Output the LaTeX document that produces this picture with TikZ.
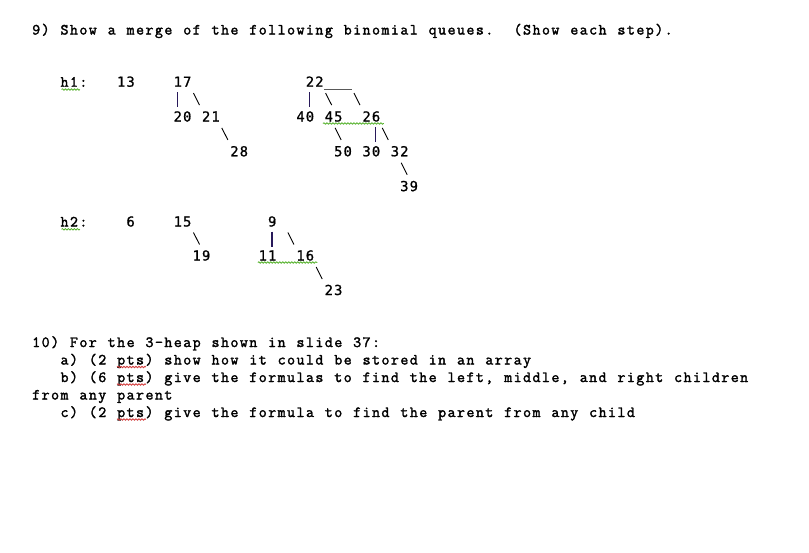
\documentclass[tikz,border=0pt]{standalone}
\usepackage{fontspec}
\usetikzlibrary{decorations.pathmorphing}
\newfontfamily\cfont[FakeBold=2]{Latin Modern Mono}
\newfontfamily\dfont[FakeBold=1]{DejaVu Sans Mono}
\newlength\cw \setlength\cw{9.44pt}
\ExplSyntaxOn
\NewDocumentCommand\gl{m}{\str_map_inline:nn {#1} {\hbox_to_wd:nn {\cw} {\hss ##1 \hss}}}
\ExplSyntaxOff
\newcommand\gs{\hbox to \cw{}}
\definecolor{barcol}{RGB}{40,25,90}
\definecolor{spellgreen}{RGB}{90,180,50}
\definecolor{spellred}{RGB}{210,60,60}
\tikzset{
  txt/.style={anchor=base west, inner sep=0pt, font=\cfont\fontsize{15.5}{17}\selectfont},
  num/.style={anchor=base west, inner sep=0pt, font=\dfont\fontsize{13.8}{15}\selectfont},
  bs/.style={line width=0.9pt, black},
  vb/.style={line width=1.1pt, barcol},
  wavy/.style={decorate, decoration={snake, segment length=3pt, amplitude=0.7pt}, line width=0.85pt},
}
\begin{document}
\begin{tikzpicture}
\path[use as bounding box, fill=white] (0,0) rectangle (809pt,-552pt);
\begin{scope}[x=9.44pt, y=-1pt, xshift=31.3pt]
% title
\node[txt] (title) at (0,34.5) {\gl{9) Show a merge of the following binomial queues.}\gs\gs\gl{(Show each step).}};
% h1
\node[txt] (h1) at (3,86.7) {\gl{h1:}};
\node[num] (n13) at (9,86.7) {\gl{13}};
\node[num] (n17) at (15,86.7) {\gl{17}};
\node[num] (n20) at (15,121.5) {\gl{20}};
\node[num] (n21) at (18,121.5) {\gl{21}};
\node[num] (n28) at (21,156.3) {\gl{28}};
\node[num] (n22) at (29,86.7) {\gl{22}};
\node[num] (n40) at (28,121.5) {\gl{40}};
\node[num] (n45) at (31,121.5) {\gl{45}};
\node[num] (n26) at (35,121.5) {\gl{26}};
\node[num] (n50) at (32,156.3) {\gl{50}};
\node[num] (n30) at (35,156.3) {\gl{30}};
\node[num] (n32) at (38,156.3) {\gl{32}};
\node[num] (n39) at (39,191.1) {\gl{39}};
% h1 strokes
\draw[vb] (15.5,92.1) -- (15.5,107.1);
\draw[bs] (17.18,93.1) -- (17.82,105.1);
\draw[bs] (20.18,127.9) -- (20.82,139.9);
\draw[vb] (29.5,92.1) -- (29.5,107.1);
\draw[bs] (31.18,93.1) -- (31.82,105.1);
\draw[bs] (34.18,93.1) -- (34.82,105.1);
\draw[line width=0.9pt, black!65] (31,89.3) -- (34,89.3);
\draw[bs] (32.18,127.9) -- (32.82,139.9);
\draw[vb] (36.5,126.9) -- (36.5,141.9);
\draw[bs] (37.18,127.9) -- (37.82,139.9);
\draw[bs] (39.18,162.7) -- (39.82,174.7);
% h2
\node[txt] (h2) at (3,226.5) {\gl{h2:}};
\node[num] (n6) at (10,226.5) {\gl{6}};
\node[num] (n15) at (15,226.5) {\gl{15}};
\node[num] (n19) at (17,260.5) {\gl{19}};
\node[num] (n9) at (25,226.5) {\gl{9}};
\node[num] (n11) at (24,260.5) {\gl{11}};
\node[num] (n16) at (28,260.5) {\gl{16}};
\node[num] (n23) at (31,295) {\gl{23}};
\draw[bs] (17.18,232.5) -- (17.82,244.5);
\draw[vb] (25.5,231.5) -- (25.5,246.5);
\draw[bs] (27.18,232.5) -- (27.82,244.5);
\draw[bs] (30.18,267) -- (30.82,279);
% spell-check underlines
\draw[wavy, spellgreen] (3.2,89.5) -- (5.15,89.5);
\draw[wavy, spellgreen] (3.2,229.3) -- (5.15,229.3);
\draw[wavy, spellgreen] (30.9,123.5) -- (37.35,123.5);
\draw[wavy, spellgreen] (24,262.5) -- (30.3,262.5);
% question 10
\node[txt] (q10) at (0,347) {\gl{10) For the 3-heap shown in slide 37:}};
\node[txt] (qa) at (3,364.5) {\gl{a) (2 pts) show how it could be stored in an array}};
\node[txt] (qb) at (3,382) {\gl{b) (6 pts) give the formulas to find the left, middle, and right children}};
\node[txt] (qb2) at (0,399.5) {\gl{from any parent}};
\node[txt] (qc) at (3,417) {\gl{c) (2 pts) give the formula to find the parent from any child}};
\draw[wavy, spellred] (9.08,367) -- (12.15,367);
\draw[wavy, spellred] (9.08,384.5) -- (12.15,384.5);
\draw[wavy, spellred] (9.08,419.5) -- (12.15,419.5);
\end{scope}
\end{tikzpicture}
\end{document}
